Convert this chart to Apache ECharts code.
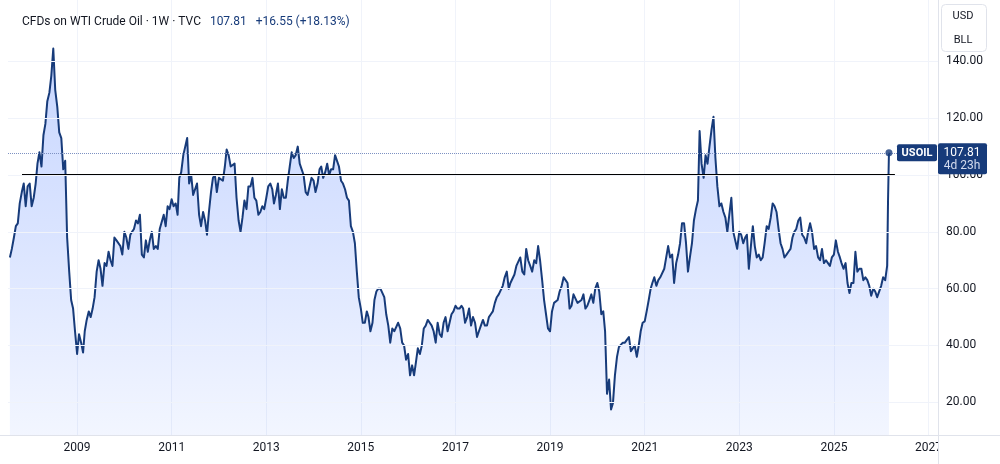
<!DOCTYPE html>
<html>
<head>
<meta charset="utf-8">
<title>CFDs on WTI Crude Oil - 1W</title>
<script src="https://cdn.jsdelivr.net/npm/echarts@6/dist/echarts.min.js"></script>
<style>
html, body { margin: 0; padding: 0; background: #fff; }
#chart { width: 1000px; height: 464px; }
</style>
</head>
<body>
<div id="chart"></div>
<script>
// closes, two per month (1st and 16th)
var closes2007 = [71, 74, 78, 82, 83, 90, 94, 97, 89, 96]; // from Aug 1
var closes2008 = [97, 89, 92, 97, 104, 108, 103, 114, 118, 126, 129, 135, 144.5, 130, 124, 115, 113, 102, 105, 78, 66, 56, 53, 45];
var closes2009 = [37, 44, 41, 37.5, 45, 49, 52, 50, 53, 57, 66, 70, 67, 61, 69, 68, 73, 70, 68, 78, 77, 77, 75, 72];
var closes2010 = [80, 78, 74, 79, 80, 81, 84, 83, 86, 72, 71, 77, 73, 77, 80, 74, 75, 74, 81, 81, 86, 82, 89, 88];
var closes2011 = [91.5, 89, 90, 86, 99, 101, 107, 110, 113, 97, 100, 93, 95, 97, 86, 82, 87, 84, 79, 87, 94, 99, 100, 94];
var closes2012 = [99, 99, 98, 103, 109, 107, 103, 103, 104, 92, 84, 80, 85, 91, 88, 96, 96, 99, 92, 91, 86, 87, 89, 88];
var closes2013 = [92, 96, 97, 95, 90, 93, 97, 88, 95, 92, 92, 98, 103, 108, 106, 107, 110, 104, 102, 100, 94, 93, 93, 99];
var closes2014 = [98, 94, 97, 102, 103, 99, 101, 104, 100, 102, 102, 107, 105, 103, 98, 97, 95, 92, 91, 82, 80, 76, 66, 57];
var closes2015 = [53, 48, 48, 52, 50, 45, 48, 56, 59, 60, 60, 60, 57, 51, 47, 41, 46, 45, 45, 48, 46, 41, 40, 35];
var closes2016 = [37, 29.5, 33, 29.5, 34, 39, 37, 40, 46, 47, 49, 48, 47, 45, 41, 48, 44, 43, 48, 50, 45, 45, 51, 52];
var closes2017 = [54, 53, 53, 54, 53, 48, 50, 53, 47, 50, 48, 43, 45, 47, 49, 47, 47, 50, 51, 52, 55, 57, 58, 58];
var closes2018 = [61, 64, 66, 60, 62, 62, 65, 68, 68, 71, 66, 65, 74, 70, 68, 66, 70, 69, 75, 70, 63, 56, 51, 46];
var closes2019 = [45, 52, 55, 55, 56, 59, 61, 64, 63, 62, 53, 54, 58, 58, 55, 55, 56, 58, 53, 54, 56, 58, 55, 60];
var closes2020 = [62, 59, 51, 52, 45, 23, 28, 17.5, 19.8, 29.5, 36, 39.5, 40, 41, 41, 42, 43, 38, 39, 40, 36, 40, 45, 48];
var closes2021 = [48.5, 52, 56, 60, 62, 64, 61, 63, 64, 64, 67, 71, 75, 71, 72, 62, 69, 72, 76, 83, 83, 76, 66, 71];
var closes2022 = [76, 84, 88, 91, 115.5, 104, 99, 107, 104, 110, 116, 120.5, 106, 96, 89, 90, 87, 85, 80, 86, 92, 80, 80, 74];
var closes2023 = [80, 79, 76, 78, 79, 67, 75, 82, 75, 71, 72, 70, 71, 76, 82, 81, 85, 90, 89, 87, 81, 76, 74, 71];
var closes2024 = [72, 73, 74, 78, 80, 81, 84, 85, 79, 78, 76, 80, 83, 80, 74, 75, 71, 70, 74, 69, 70, 69, 68, 71];
var closes2025 = [72, 77, 73, 71, 69, 67, 69, 62, 58.5, 62, 62, 73, 66, 67, 67, 63, 64, 63, 61, 57.5, 60, 59, 57, 57.5];
var closes2026 = [61, 64, 63, 68];
// last two weekly bars
var lastWeeks = ['2026-02-23', '2026-03-02'];
var lastCloses = [91.26, 107.81];

var yearTicks = [2009, 2011, 2013, 2015, 2017, 2019, 2021, 2023, 2025, 2027];
var priceTicks = [20, 40, 60, 80, 100, 120, 140];
// drawn horizontal level and the span it covers (decimal years)
var levelLine = 100;
var levelSpan = [2007.835, 2026.29];

var NAVY = '#173b7a';

function yr(y) { // decimal year -> timestamp
 return Date.UTC(2009, 0, 1) + (y - 2009) * 365.2425 * 864e5;
}

var rows = [
 [2007, 14, closes2007], [2008, 0, closes2008], [2009, 0, closes2009], [2010, 0, closes2010],
 [2011, 0, closes2011], [2012, 0, closes2012], [2013, 0, closes2013], [2014, 0, closes2014],
 [2015, 0, closes2015], [2016, 0, closes2016], [2017, 0, closes2017], [2018, 0, closes2018],
 [2019, 0, closes2019], [2020, 0, closes2020], [2021, 0, closes2021], [2022, 0, closes2022],
 [2023, 0, closes2023], [2024, 0, closes2024], [2025, 0, closes2025], [2026, 0, closes2026]
];
var seriesData = [];
rows.forEach(function (row) {
 row[2].forEach(function (v, i) {
  var k = row[1] + i;
  seriesData.push([Date.UTC(row[0], Math.floor(k / 2), k % 2 ? 16 : 1), v]);
 });
});
lastWeeks.forEach(function (d, i) {
 seriesData.push([Date.parse(d), lastCloses[i]]);
});
var lastPoint = seriesData[seriesData.length - 1];
var tickTimes = yearTicks.map(function (y) { return Date.UTC(y, 0, 1); });

var myChart = echarts.init(document.getElementById('chart'));
var option = {
 animation: false,
 backgroundColor: '#fff',
 textStyle: { fontFamily: 'Roboto' },
 title: {
  left: 17, top: 8,
  text: '{a|CFDs on WTI Crude Oil · 1W · TVC}  {b|107.81}  {b|+16.55 (+18.13%)}',
  textStyle: {
   fontWeight: 'normal',
   rich: {
    a: { color: '#131722', fontSize: 12, fontWeight: 'normal', fontFamily: 'Roboto' },
    b: { color: NAVY, fontSize: 12, fontWeight: 'normal', fontFamily: 'Roboto' }
   }
  }
 },
 grid: { left: 8, right: 62, top: 0, bottom: 29 },
 xAxis: {
  // timestamps on a plain value axis so the year ticks can be placed exactly
  type: 'value',
  min: yr(2007.539), max: yr(2027.201),
  axisLine: { show: false },
  axisTick: { show: false, customValues: tickTimes },
  axisLabel: {
   customValues: tickTimes,
   formatter: function (v) { return String(new Date(v + 864e5).getUTCFullYear()); },
   color: '#131722', fontSize: 12, fontFamily: 'Roboto', margin: 7
  },
  splitLine: { show: true, lineStyle: { color: '#f0f3fa', width: 1 } }
 },
 yAxis: {
  type: 'value', position: 'right', min: 8.5, max: 161.6, z: 20,
  axisLine: { show: false },
  axisTick: { show: false, customValues: priceTicks },
  axisLabel: {
   customValues: priceTicks,
   formatter: function (v) { return v.toFixed(2); },
   color: '#131722', fontSize: 12, fontFamily: 'Roboto', margin: 8
  },
  splitLine: { show: true, lineStyle: { color: '#f0f3fa', width: 1 } }
 },
 series: [
  {
   type: 'line', data: seriesData, showSymbol: false, symbol: 'none', silent: true,
   lineStyle: { color: NAVY, width: 2, join: 'round' },
   itemStyle: { color: NAVY },
   areaStyle: {
    opacity: 1,
    color: new echarts.graphic.LinearGradient(0, 0, 0, 1, [
     { offset: 0, color: 'rgba(41,98,255,0.26)' },
     { offset: 0.5, color: 'rgba(41,98,255,0.17)' },
     { offset: 1, color: 'rgba(41,98,255,0.06)' }
    ])
   },
   markLine: {
    silent: true, symbol: ['none', 'none'], label: { show: false },
    data: [
     { yAxis: lastPoint[1], lineStyle: { color: '#7d91c2', width: 1, type: 'dotted' } }
    ]
   }
  },
  {
   type: 'line', silent: true, showSymbol: false, symbol: 'none', z: 4,
   data: levelSpan.map(function (y) { return [yr(y), levelLine]; }),
   itemStyle: { color: '#000' },
   lineStyle: { color: '#000', width: 2, opacity: 1, type: 'solid' }
  },
  {
   type: 'scatter', data: [lastPoint], symbolSize: 7, silent: true,
   itemStyle: { color: NAVY }, z: 5
  }
 ]
};
myChart.setOption(option);

var py = myChart.convertToPixel({ yAxisIndex: 0 }, lastPoint[1]);
myChart.setOption({
 graphic: [
  { type: 'rect', z: 10, silent: true, shape: { x: 938, y: 0, width: 62, height: 464 }, style: { fill: '#fff' } },
  { type: 'line', z: 11, silent: true, shape: { x1: 938.5, y1: 0, x2: 938.5, y2: 464 }, style: { stroke: '#e0e3eb', lineWidth: 1 } },
  { type: 'line', z: 11, silent: true, shape: { x1: 0, y1: 435.5, x2: 1000, y2: 435.5 }, style: { stroke: '#e0e3eb', lineWidth: 1 } },
  { type: 'rect', z: 25, silent: true, shape: { x: 941.5, y: 4.5, width: 45, height: 47, r: 4 }, style: { fill: '#fff', stroke: '#e0e3eb', lineWidth: 1 } },
  { type: 'text', z: 26, silent: true, style: { x: 963, y: 16, text: 'USD', fill: '#131722', font: '11px Roboto', align: 'center', verticalAlign: 'middle' } },
  { type: 'text', z: 26, silent: true, style: { x: 963, y: 40, text: 'BLL', fill: '#131722', font: '11px Roboto', align: 'center', verticalAlign: 'middle' } },
  { type: 'rect', z: 25, silent: true, shape: { x: 897, y: py - 8.5, width: 40, height: 17, r: 2 }, style: { fill: NAVY } },
  { type: 'text', z: 26, silent: true, style: { x: 917, y: py + 0.5, text: 'USOIL', fill: '#fff', font: 'bold 11px Roboto', align: 'center', verticalAlign: 'middle' } },
  { type: 'rect', z: 25, silent: true, shape: { x: 938, y: py - 9.5, width: 49, height: 31, r: 2 }, style: { fill: NAVY } },
  { type: 'text', z: 26, silent: true, style: { x: 962, y: py + 0.5, text: '107.81', fill: '#fff', font: '12px Roboto', align: 'center', verticalAlign: 'middle' } },
  { type: 'text', z: 26, silent: true, style: { x: 962, y: py + 13.5, text: '4d 23h', fill: '#d3dbee', font: '12px Roboto', align: 'center', verticalAlign: 'middle' } }
 ]
});
</script>
</body>
</html>
